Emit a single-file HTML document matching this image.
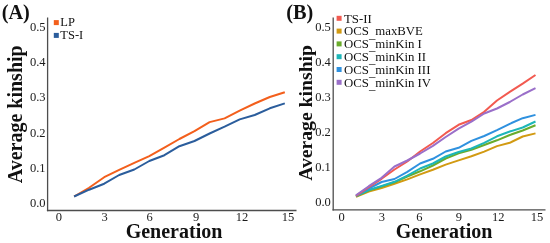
<!DOCTYPE html>
<html><head><meta charset="utf-8"><style>
html,body{margin:0;padding:0;background:#fff;}
svg{display:block;will-change:transform;}
text{font-family:"Liberation Serif",serif;}
.lab{font-size:20.3px;font-weight:bold;fill:#111;}
.ttl{font-size:20px;font-weight:bold;fill:#111;}
.tk{font-size:12.5px;fill:#1a1a1a;}
.lg{font-size:12.5px;fill:#111;}
.ax{stroke:#4d4d4d;stroke-width:1.3;}
</style></head><body>
<svg width="550" height="243" viewBox="0 0 550 243">
<g transform="translate(0,0)">
<text x="1.7" y="19" class="lab">(A)</text>
<text transform="translate(21.5,114.3) rotate(-90)" text-anchor="middle" class="ttl" style="font-size:20px">Average kinship</text>
<text x="45.5" y="206.8" text-anchor="end" class="tk">0.0</text>
<text x="45.5" y="171.7" text-anchor="end" class="tk">0.1</text>
<text x="45.5" y="136.5" text-anchor="end" class="tk">0.2</text>
<text x="45.5" y="101.4" text-anchor="end" class="tk">0.3</text>
<text x="45.5" y="66.2" text-anchor="end" class="tk">0.4</text>
<text x="45.5" y="31.1" text-anchor="end" class="tk">0.5</text>
<line x1="47.6" y1="17.5" x2="47.6" y2="211.2" class="ax"/>
<line x1="46.9" y1="210.5" x2="296.5" y2="210.5" class="ax"/>
<text x="58.8" y="221.3" text-anchor="middle" class="tk">0</text>
<text x="104.6" y="221.3" text-anchor="middle" class="tk">3</text>
<text x="149.6" y="221.3" text-anchor="middle" class="tk">6</text>
<text x="196.2" y="221.3" text-anchor="middle" class="tk">9</text>
<text x="242.0" y="221.3" text-anchor="middle" class="tk">12</text>
<text x="287.9" y="221.3" text-anchor="middle" class="tk">15</text>
<rect x="53.8" y="20.1" width="5" height="5" fill="#f35f1c"/>
 <text x="60.3" y="26.1" class="lg" style="font-size:12.5px">LP</text>
<rect x="53.8" y="32.9" width="5" height="5" fill="#2b5d9c"/>
 <text x="60.3" y="38.9" class="lg" style="font-size:12.5px">TS-I</text>
</g>
<polyline points="74.1,196.5 89.1,187.8 104.2,177.2 119.2,169.9 134.3,162.9 149.3,156.1 164.4,147.6 179.4,139.0 194.5,131.1 209.6,122.1 224.6,118.4 239.7,110.7 254.7,103.5 269.8,97.0 284.8,92.2" fill="none" stroke="#f35f1c" stroke-width="2" stroke-linejoin="round" stroke-linecap="butt"/>
<polyline points="74.1,196.5 89.1,189.7 104.2,183.7 119.2,175.0 134.3,169.5 149.3,161.0 164.4,155.2 179.4,146.2 194.5,141.0 209.6,133.5 224.6,126.7 239.7,119.4 254.7,115.0 269.8,108.3 284.8,103.4" fill="none" stroke="#2b5d9c" stroke-width="2" stroke-linejoin="round" stroke-linecap="butt"/>
<g transform="translate(286.3,0)">
<text x="-0.09999999999999987" y="19" class="lab">(B)</text>
<text transform="translate(25.7,112.9) rotate(-90)" text-anchor="middle" class="ttl" style="font-size:19.7px">Average kinship</text>
<text x="44.5" y="206.2" text-anchor="end" class="tk">0.0</text>
<text x="44.5" y="171.1" text-anchor="end" class="tk">0.1</text>
<text x="44.5" y="135.9" text-anchor="end" class="tk">0.2</text>
<text x="44.5" y="100.8" text-anchor="end" class="tk">0.3</text>
<text x="44.5" y="65.6" text-anchor="end" class="tk">0.4</text>
<text x="44.5" y="30.5" text-anchor="end" class="tk">0.5</text>
<line x1="46.9" y1="17.5" x2="46.9" y2="210.5" class="ax"/>
<line x1="46.199999999999996" y1="209.8" x2="259.2" y2="209.8" class="ax"/>
<text x="55.3" y="220.9" text-anchor="middle" class="tk">0</text>
<text x="95.5" y="220.9" text-anchor="middle" class="tk">3</text>
<text x="133.2" y="220.9" text-anchor="middle" class="tk">6</text>
<text x="172.7" y="220.9" text-anchor="middle" class="tk">9</text>
<text x="212.0" y="220.9" text-anchor="middle" class="tk">12</text>
<text x="250.7" y="220.9" text-anchor="middle" class="tk">15</text>
<rect x="50.30000000000001" y="15.8" width="5" height="5" fill="#f25a50"/>
 <text x="57.69999999999999" y="22.6" class="lg" style="font-size:12.8px">TS-II</text>
<rect x="50.30000000000001" y="28.6" width="5" height="5" fill="#d29a12"/>
 <text x="57.69999999999999" y="35.4" class="lg" style="font-size:12.8px">OCS<tspan dy="2.3">_</tspan><tspan dy="-2.3">maxBVE</tspan></text>
<rect x="50.30000000000001" y="41.4" width="5" height="5" fill="#6aac2c"/>
 <text x="57.69999999999999" y="48.1" class="lg" style="font-size:12.8px">OCS<tspan dy="2.3">_</tspan><tspan dy="-2.3">minKin I</tspan></text>
<rect x="50.30000000000001" y="54.2" width="5" height="5" fill="#1db6b8"/>
 <text x="57.69999999999999" y="61.0" class="lg" style="font-size:12.8px">OCS<tspan dy="2.3">_</tspan><tspan dy="-2.3">minKin II</tspan></text>
<rect x="50.30000000000001" y="67.0" width="5" height="5" fill="#2f91df"/>
 <text x="57.69999999999999" y="73.8" class="lg" style="font-size:12.8px">OCS<tspan dy="2.3">_</tspan><tspan dy="-2.3">minKin III</tspan></text>
<rect x="50.30000000000001" y="79.8" width="5" height="5" fill="#9a6fc9"/>
 <text x="57.69999999999999" y="86.5" class="lg" style="font-size:12.8px">OCS<tspan dy="2.3">_</tspan><tspan dy="-2.3">minKin IV</tspan></text>
</g>
<polyline points="356.0,196.9 368.8,191.5 381.6,188.0 394.5,183.8 407.3,179.4 420.1,174.4 432.9,169.8 445.7,164.6 458.6,160.4 471.4,156.3 484.2,151.6 497.0,146.1 509.8,142.8 522.7,136.5 535.5,133.4" fill="none" stroke="#d29a12" stroke-width="2" stroke-linejoin="round" stroke-linecap="butt"/>
<polyline points="356.0,196.3 368.8,190.5 381.6,186.5 394.5,182.3 407.3,176.5 420.1,171.3 432.9,165.5 445.7,158.5 458.6,153.4 471.4,149.8 484.2,145.0 497.0,140.3 509.8,135.0 522.7,130.5 535.5,125.3" fill="none" stroke="#6aac2c" stroke-width="2" stroke-linejoin="round" stroke-linecap="butt"/>
<polyline points="356.0,196.0 368.8,190.0 381.6,186.0 394.5,181.8 407.3,175.7 420.1,168.5 432.9,163.5 445.7,156.5 458.6,152.0 471.4,148.5 484.2,142.8 497.0,136.3 509.8,131.5 522.7,127.5 535.5,121.5" fill="none" stroke="#1db6b8" stroke-width="2" stroke-linejoin="round" stroke-linecap="butt"/>
<polyline points="356.0,195.8 368.8,188.5 381.6,182.0 394.5,179.0 407.3,171.8 420.1,163.5 432.9,158.8 445.7,151.5 458.6,147.8 471.4,140.9 484.2,136.0 497.0,130.1 509.8,123.8 522.7,118.2 535.5,114.9" fill="none" stroke="#2f91df" stroke-width="2" stroke-linejoin="round" stroke-linecap="butt"/>
<polyline points="356.0,195.8 368.8,187.1 381.6,178.8 394.5,169.5 407.3,161.5 420.1,151.5 432.9,143.0 445.7,133.2 458.6,124.8 471.4,120.0 484.2,111.8 497.0,100.5 509.8,91.8 522.7,83.6 535.5,75.0" fill="none" stroke="#f25a50" stroke-width="2" stroke-linejoin="round" stroke-linecap="butt"/>
<polyline points="356.0,195.2 368.8,186.2 381.6,177.8 394.5,166.5 407.3,160.5 420.1,153.5 432.9,145.9 445.7,137.0 458.6,128.7 471.4,121.7 484.2,113.5 497.0,108.5 509.8,102.0 522.7,94.5 535.5,88.2" fill="none" stroke="#9a6fc9" stroke-width="2" stroke-linejoin="round" stroke-linecap="butt"/>
<text x="174" y="237.5" text-anchor="middle" class="ttl">Generation</text>
<text x="444" y="237.5" text-anchor="middle" class="ttl">Generation</text>
</svg>
</body></html>
